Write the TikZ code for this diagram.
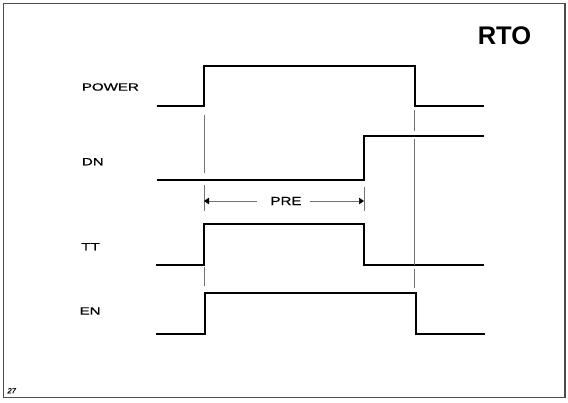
\documentclass[tikz,border=0pt]{standalone}
\usepackage{fontspec}
\setmainfont{Liberation Sans}
\newfontfamily\stretchfont[FakeStretch=1.45,FakeBold=0.7]{Liberation Sans}
\newfontfamily\prefont[FakeStretch=1.28,FakeBold=0.5]{Liberation Sans}
\newfontfamily\pagefont[FakeBold=0.8]{Liberation Sans}
\usetikzlibrary{arrows.meta}
\begin{document}
\begin{tikzpicture}[x=1pt,y=-1pt,
  sig/.style={line width=2pt,black,line join=miter},
  guide/.style={line width=0.6pt,black!55},
  lbl/.style={anchor=west,font=\stretchfont\fontsize{10.4}{12}\selectfont,inner sep=0pt},
  dimline/.style={line width=0.5pt,black!55,-{Triangle[length=5pt,width=6.5pt,black]}}]
\useasboundingbox (0,0) rectangle (568,402);
\draw[line width=1.4pt,black!70] (3.6,3.6) rectangle (565,397.6);
\node[anchor=center,font=\bfseries\fontsize{25.5}{28}\selectfont,inner sep=0pt] (title) at (504.5,35.5) {RTO};
\node[anchor=south west,font=\pagefont\itshape\fontsize{7.5}{9}\selectfont,inner sep=0pt] (page) at (7.3,393.5) {27};
% labels
\node[lbl] (lpower) at (81.7,87) {POWER};
\node[lbl] (ldn) at (81.7,161.7) {DN};
\node[lbl] (ltt) at (81.2,246.7) {TT};
\node[lbl] (len) at (79.4,311) {EN};
% signals
\draw[sig] (156.5,106) -- (204,106) -- (204,65.5) -- (415,65.5) -- (415,106) -- (484,106);
\draw[sig] (156.5,180) -- (364,180) -- (364,136) -- (484,136);
\draw[sig] (156,264.5) -- (204,264.5) -- (204,223.5) -- (364,223.5) -- (364,264.5) -- (484,264.5);
\draw[sig] (156,334) -- (205,334) -- (205,293) -- (415.5,293) -- (415.5,334) -- (485,334);
% guide lines
\draw[guide] (204,115) -- (204,173.3);
\draw[guide] (204,185) -- (204,211);
\draw[guide] (204,267) -- (204,286);
\draw[guide] (364,187) -- (364,211);
\draw[guide] (414.5,110) -- (414.5,131);
\draw[guide] (414.5,139) -- (414.5,264.5);
\draw[guide] (414.5,269) -- (414.5,288);
% PRE dimension
\coordinate (preL) at (204,201);
\coordinate (preR) at (364,201);
\node[font=\prefont\fontsize{11.8}{13}\selectfont,inner sep=0pt] (pre) at (286,201) {PRE};
\draw[dimline] ([xshift=-13pt]pre.west) -- (preL);
\draw[dimline] ([xshift=8pt]pre.east) -- (preR);
\end{tikzpicture}
\end{document}
